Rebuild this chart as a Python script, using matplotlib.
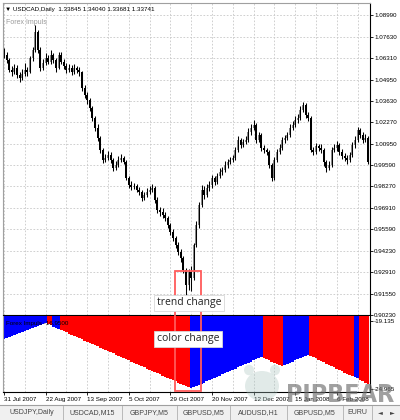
import matplotlib.pyplot as plt
from matplotlib.patches import Rectangle, Ellipse, Circle

# ---------- data ----------
opens = [1.0670, 1.0649, 1.0618, 1.0555, 1.0543, 1.0568, 1.0524, 1.0505, 1.0530, 1.0555,
         1.0543, 1.0630, 1.0680, 1.0793, 1.0680, 1.0568, 1.0599, 1.0630, 1.0605, 1.0649,
         1.0618, 1.0568, 1.0649, 1.0605, 1.0580, 1.0555, 1.0568, 1.0543, 1.0568, 1.0555,
         1.0543, 1.0443, 1.0399, 1.0368, 1.0318, 1.0255, 1.0193, 1.0130, 1.0055, 0.9993,
         1.0005, 1.0024, 0.9993, 0.9943, 0.9961, 0.9993, 1.0005, 0.9980, 0.9880, 0.9836,
         0.9824, 0.9830, 0.9805, 0.9793, 0.9755, 0.9774, 0.9793, 0.9805, 0.9818, 0.9743,
         0.9680, 0.9668, 0.9649, 0.9630, 0.9586, 0.9543, 0.9505, 0.9461, 0.9418, 0.9380,
         0.9305, 0.9211, 0.9293, 0.9255, 0.9461, 0.9586, 0.9711, 0.9805, 0.9774, 0.9818,
         0.9836, 0.9880, 0.9855, 0.9893, 0.9918, 0.9930, 0.9961, 0.9980, 0.9993, 1.0005,
         1.0055, 1.0118, 1.0086, 1.0105, 1.0118, 1.0168, 1.0193, 1.0211, 1.0118, 1.0149,
         1.0068, 1.0055, 1.0043, 0.9961, 0.9880, 0.9993, 1.0043, 1.0068, 1.0118, 1.0130,
         1.0149, 1.0193, 1.0211, 1.0243, 1.0255, 1.0305, 1.0336, 1.0274, 1.0255, 1.0055,
         1.0043, 1.0080, 1.0068, 1.0055, 0.9980, 0.9943, 0.9961, 1.0055, 1.0068, 1.0086,
         1.0043, 1.0018, 1.0005, 0.9993, 1.0024, 1.0086, 1.0118, 1.0180, 1.0149, 1.0118,
         1.0130]
highs = [1.0695, 1.0668, 1.0630, 1.0580, 1.0590, 1.0585, 1.0540, 1.0560, 1.0600, 1.0575,
         1.0645, 1.0700, 1.0836, 1.0805, 1.0700, 1.0625, 1.0660, 1.0650, 1.0680, 1.0660,
         1.0630, 1.0670, 1.0665, 1.0625, 1.0600, 1.0590, 1.0585, 1.0595, 1.0580, 1.0575,
         1.0550, 1.0460, 1.0415, 1.0380, 1.0330, 1.0270, 1.0215, 1.0145, 1.0070, 1.0030,
         1.0050, 1.0040, 1.0005, 0.9985, 1.0015, 1.0030, 1.0020, 0.9990, 0.9895, 0.9860,
         0.9850, 0.9845, 0.9825, 0.9805, 0.9795, 0.9815, 0.9830, 0.9845, 0.9830, 0.9760,
         0.9700, 0.9690, 0.9665, 0.9645, 0.9600, 0.9560, 0.9520, 0.9480, 0.9435, 0.9395,
         0.9320, 0.9310, 0.9330, 0.9475, 0.9610, 0.9730, 0.9835, 0.9830, 0.9840, 0.9860,
         0.9900, 0.9895, 0.9910, 0.9940, 0.9950, 0.9985, 1.0000, 1.0010, 1.0025, 1.0075,
         1.0140, 1.0130, 1.0125, 1.0140, 1.0190, 1.0215, 1.0243, 1.0225, 1.0170, 1.0160,
         1.0085, 1.0070, 1.0055, 0.9975, 1.0010, 1.0060, 1.0090, 1.0135, 1.0150, 1.0170,
         1.0215, 1.0235, 1.0265, 1.0280, 1.0330, 1.0355, 1.0350, 1.0295, 1.0265, 1.0075,
         1.0100, 1.0095, 1.0090, 1.0065, 0.9995, 0.9985, 1.0075, 1.0090, 1.0110, 1.0100,
         1.0060, 1.0035, 1.0025, 1.0045, 1.0105, 1.0140, 1.0200, 1.0195, 1.0165, 1.0155,
         1.0140]
lows = [1.0630, 1.0600, 1.0540, 1.0520, 1.0530, 1.0505, 1.0480, 1.0495, 1.0515, 1.0520,
        1.0535, 1.0610, 1.0665, 1.0660, 1.0550, 1.0555, 1.0585, 1.0590, 1.0595, 1.0600,
        1.0545, 1.0560, 1.0590, 1.0560, 1.0535, 1.0540, 1.0525, 1.0530, 1.0535, 1.0520,
        1.0425, 1.0380, 1.0345, 1.0300, 1.0235, 1.0175, 1.0110, 1.0035, 0.9975, 0.9978,
        0.9990, 0.9975, 0.9925, 0.9930, 0.9950, 0.9980, 0.9965, 0.9865, 0.9815, 0.9805,
        0.9810, 0.9790, 0.9775, 0.9735, 0.9740, 0.9760, 0.9780, 0.9790, 0.9725, 0.9660,
        0.9645, 0.9630, 0.9610, 0.9565, 0.9525, 0.9485, 0.9440, 0.9400, 0.9355, 0.9285,
        0.9118, 0.9180, 0.9170, 0.9240, 0.9450, 0.9570, 0.9700, 0.9750, 0.9760, 0.9800,
        0.9820, 0.9835, 0.9840, 0.9880, 0.9900, 0.9915, 0.9945, 0.9965, 0.9980, 0.9995,
        1.0045, 1.0070, 1.0075, 1.0095, 1.0105, 1.0150, 1.0180, 1.0100, 1.0105, 1.0050,
        1.0035, 1.0025, 0.9940, 0.9860, 0.9870, 0.9980, 1.0030, 1.0055, 1.0100, 1.0115,
        1.0135, 1.0180, 1.0200, 1.0225, 1.0240, 1.0290, 1.0255, 1.0235, 1.0040, 1.0025,
        1.0030, 1.0050, 1.0035, 0.9955, 0.9920, 0.9930, 0.9950, 1.0040, 1.0050, 1.0025,
        1.0000, 0.9985, 0.9970, 0.9980, 1.0010, 1.0070, 1.0105, 1.0130, 1.0100, 1.0105,
        0.9970]
closes = [1.0649, 1.0618, 1.0555, 1.0543, 1.0568, 1.0524, 1.0505, 1.0530, 1.0555, 1.0543,
          1.0630, 1.0680, 1.0793, 1.0680, 1.0568, 1.0599, 1.0630, 1.0605, 1.0649, 1.0618,
          1.0568, 1.0649, 1.0605, 1.0580, 1.0555, 1.0568, 1.0543, 1.0568, 1.0555, 1.0543,
          1.0443, 1.0399, 1.0368, 1.0318, 1.0255, 1.0193, 1.0130, 1.0055, 0.9993, 1.0005,
          1.0024, 0.9993, 0.9943, 0.9961, 0.9993, 1.0005, 0.9980, 0.9880, 0.9836, 0.9824,
          0.9830, 0.9805, 0.9793, 0.9755, 0.9774, 0.9793, 0.9805, 0.9818, 0.9743, 0.9680,
          0.9668, 0.9649, 0.9630, 0.9586, 0.9543, 0.9505, 0.9461, 0.9418, 0.9380, 0.9305,
          0.9211, 0.9293, 0.9255, 0.9461, 0.9586, 0.9711, 0.9805, 0.9774, 0.9818, 0.9836,
          0.9880, 0.9855, 0.9893, 0.9918, 0.9930, 0.9961, 0.9980, 0.9993, 1.0005, 1.0055,
          1.0118, 1.0086, 1.0105, 1.0118, 1.0168, 1.0193, 1.0211, 1.0118, 1.0149, 1.0068,
          1.0055, 1.0043, 0.9961, 0.9880, 0.9993, 1.0043, 1.0068, 1.0118, 1.0130, 1.0149,
          1.0193, 1.0211, 1.0243, 1.0255, 1.0305, 1.0336, 1.0274, 1.0255, 1.0055, 1.0043,
          1.0080, 1.0068, 1.0055, 0.9980, 0.9943, 0.9961, 1.0055, 1.0068, 1.0086, 1.0043,
          1.0018, 1.0005, 0.9993, 1.0024, 1.0086, 1.0118, 1.0180, 1.0149, 1.0118, 1.0130,
          0.9980]

# Forex Impuls indicator histogram
impulse = [-20.68, -20.60, -20.51, -20.43, -20.34, -20.26, -20.17, -20.09, -20.00, -19.92,
           -19.83, -19.75, -19.66, -19.58, -19.49, -19.40, -19.31,
           -19.41, -19.51, -19.61, -19.71, -19.81, -19.91, -20.01, -20.11, -20.21, -20.31,
           -20.41, -20.51, -20.61, -20.71, -20.81, -20.91, -21.01, -21.11, -21.21, -21.31,
           -21.41, -21.51, -21.61, -21.71, -21.81, -21.91, -22.01, -22.11, -22.21, -22.31,
           -22.41, -22.51, -22.61, -22.71, -22.81, -22.91, -23.01, -23.11, -23.21, -23.31,
           -23.41, -23.51, -23.61, -23.71, -23.81, -23.91, -24.01, -24.11, -24.21, -24.31,
           -24.41, -24.51, -24.61, -24.71, -24.81,
           -24.91,
           -24.81, -24.71, -24.61, -24.51, -24.41, -24.31, -24.21, -24.11, -24.01, -23.91,
           -23.81, -23.71, -23.61, -23.51, -23.41, -23.31, -23.21, -23.11, -23.01, -22.91,
           -22.81, -22.71, -22.61, -22.51, -22.41, -22.31, -22.21,
           -22.31, -22.41, -22.51, -22.61, -22.71, -22.81, -22.91, -23.01,
           -22.91, -22.81, -22.71, -22.61, -22.51, -22.41, -22.31, -22.21, -22.11, -22.01,
           -22.12, -22.23, -22.34, -22.45, -22.56, -22.67, -22.78, -22.89, -23.00, -23.11,
           -23.22, -23.33, -23.44, -23.55, -23.66, -23.77, -23.88,
           -23.95, -24.02,
           -24.15, -24.28, -24.41, -24.54]
impulse_color = (["blue"] * 17 + ["red"] * 2 + ["blue"] * 3 + ["red"] * 50 + ["blue"] * 28
                 + ["red"] * 8 + ["blue"] * 10 + ["red"] * 17 + ["blue"] * 2 + ["red"] * 4)

price_ticks = [1.08990, 1.07630, 1.06310, 1.04950, 1.03630, 1.02270, 1.00950, 0.99590,
               0.98270, 0.96910, 0.95590, 0.94230, 0.92910, 0.91550, 0.90230]
impulse_ticks = [-19.135, -24.965]
date_bars = [0, 16, 32, 48, 64, 80, 96, 112, 128]
date_labels = ["31 Jul 2007", "22 Aug 2007", "13 Sep 2007", "5 Oct 2007", "29 Oct 2007",
               "20 Nov 2007", "12 Dec 2007", "15 Jan 2008", "6 Feb 2008"]
tabs = ["USDJPY,Daily", "USDCAD,M15", "GBPJPY,M5", "GBPUSD,M5", "AUDUSD,H1", "GBPUSD,M5", "EURU"]

# ---------- layout helpers (pixel -> figure fraction) ----------
W, H = 400, 420
def fx(x): return x / W
def fy(y): return 1 - y / H

plt.rcParams["font.family"] = ["Liberation Sans", "DejaVu Sans"]
fig = plt.figure(figsize=(4, 4.2), dpi=100, facecolor="white")

idx = list(range(len(closes)))
grid_kw = dict(color="#c8c8c8", linestyle=(0, (2, 2)), linewidth=0.6)

# ---------- price panel ----------
ax1 = fig.add_axes([fx(3), fy(315), fx(370) - fx(3), fy(3) - fy(315)])
ax1.set_xlim(-0.4, 140.8)
ax1.set_ylim(0.90230, 1.09740)
ax1.set_axisbelow(True)
ax1.set_xticks(range(0, 141, 8))
ax1.set_yticks(price_ticks)
ax1.grid(True, **grid_kw)
ax1.tick_params(axis="x", length=0, labelbottom=False)
ax1.yaxis.tick_right()
ax1.set_yticklabels([f"{p:.5f}" for p in price_ticks])
ax1.tick_params(axis="y", length=2, width=0.6, pad=1, labelsize=4.5, colors="black")

body_col = ["#8c8c8c" if c >= o else "black" for o, c in zip(opens, closes)]
ax1.vlines(idx, lows, highs, color="black", linewidth=0.75)
ax1.bar(idx, [c - o for o, c in zip(opens, closes)], bottom=opens, width=0.75,
        color=body_col, linewidth=0)

for s in ["top", "left"]:
    ax1.spines[s].set_color("#a0a0a0")
for s in ["right", "bottom"]:
    ax1.spines[s].set_color("black")
for s in ax1.spines.values():
    s.set_linewidth(0.8)

# ---------- indicator panel ----------
ax2 = fig.add_axes([fx(3), fy(392), fx(370) - fx(3), fy(316) - fy(392)])
ax2.set_xlim(-0.4, 140.8)
ax2.set_ylim(-25.22, -18.706)
ax2.set_axisbelow(True)
ax2.set_xticks(date_bars)
ax2.set_xticks(range(0, 141, 8), minor=True)
ax2.grid(True, axis="x", which="both", **grid_kw)
ax2.set_xticklabels(date_labels, ha="left")
ax2.tick_params(axis="x", which="major", length=2, width=0.6, pad=1.5, labelsize=4.5)
ax2.tick_params(axis="x", which="minor", length=0)
ax2.bar(idx, [-v for v in impulse], bottom=impulse, width=1.0, color=impulse_color,
        linewidth=0, antialiased=False)
ax2.yaxis.tick_right()
ax2.set_yticks(impulse_ticks)
ax2.set_yticklabels([f"{v:.3f}" for v in impulse_ticks])
ax2.tick_params(axis="y", length=2, width=0.6, pad=1, labelsize=4.5)
ax2.spines["left"].set_color("#a0a0a0")
ax2.spines["top"].set_visible(False)
for s in ax2.spines.values():
    s.set_linewidth(0.8)

# ---------- texts ----------
fig.text(fx(5), fy(9), "\u25bc USDCAD,Daily  1.33845 1.34040 1.33681 1.33741",
         fontsize=4.5, va="center", family=["Liberation Sans", "DejaVu Sans"])
fig.text(fx(6), fy(22), "Forex Impuls", fontsize=5, color="#9a9a9a", va="center")
fig.text(fx(6), fy(323), "Forex Impuls -16.9500", fontsize=4.5, color="black", va="center")

# annotation rectangle + boxes
fig.patches.append(Rectangle((fx(175), fy(391)), fx(201) - fx(175), fy(271) - fy(391),
                             transform=fig.transFigure, fill=False, edgecolor="#ff5a5a",
                             linewidth=1.3, zorder=5))
box = dict(boxstyle="square,pad=0.25", fc="white", ec="#d8d8d8", lw=0.6)
fig.text(fx(189), fy(303), "trend change", fontsize=7.5, ha="center", va="center",
         family="Open Sans", color="#222222", bbox=box, zorder=6)
fig.text(fx(188), fy(339), "color change", fontsize=7.5, ha="center", va="center",
         family="Open Sans", color="#222222", bbox=box, zorder=6)

# watermark
wm = dict(transform=fig.transFigure, color="#a9c4bf", alpha=0.35, zorder=4, linewidth=0)
fig.patches.append(Ellipse((fx(262), fy(386)), 34 / W, 30 / H, **wm))
fig.patches.append(Circle((fx(249), fy(370)), 5 / W, **wm))
fig.patches.append(Circle((fx(275), fy(370)), 5 / W, **wm))
fig.text(fx(286), fy(395), "PIPBEAR", fontsize=18, fontweight="bold", color="#6e6e6e",
         alpha=0.65, va="center", ha="left", family="DejaVu Sans", fontstretch="condensed",
         zorder=4)

# ---------- tab bar ----------
fig.patches.append(Rectangle((0, 0), 1, fy(405), transform=fig.transFigure,
                             facecolor="#f0f0f0", edgecolor="none", zorder=3))
fig.lines.append(plt.Line2D([0, 1], [fy(405), fy(405)], transform=fig.transFigure,
                            color="#a0a0a0", linewidth=0.8, zorder=4))
tab_edges = [0, 63, 122, 177, 230, 287, 343, 372]
for k, name in enumerate(tabs):
    x0, x1 = tab_edges[k], tab_edges[k + 1]
    fig.text(fx((x0 + x1) / 2), fy(413), name, fontsize=5, color="#444444",
             ha="center", va="center", zorder=5)
    fig.lines.append(plt.Line2D([fx(x1), fx(x1)], [fy(420), fy(406)],
                                transform=fig.transFigure, color="#b0b0b0",
                                linewidth=0.6, zorder=4))
fig.text(fx(380), fy(413), "\u25c4", fontsize=4.5, color="#444444", ha="center", va="center",
         family="DejaVu Sans", zorder=5)
fig.text(fx(392), fy(413), "\u25ba", fontsize=4.5, color="#444444", ha="center", va="center",
         family="DejaVu Sans", zorder=5)

fig.savefig("out.png", dpi=100, facecolor="white")
